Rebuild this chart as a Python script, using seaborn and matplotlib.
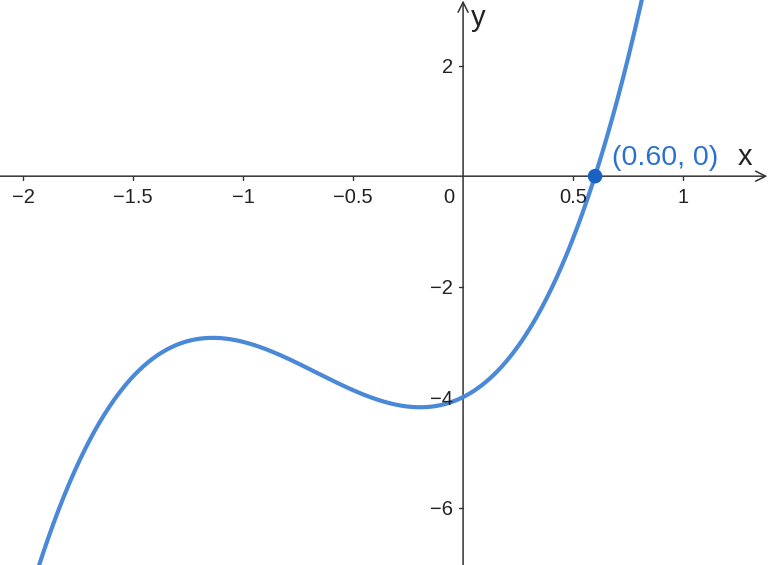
import numpy as np
import pandas as pd
import matplotlib
matplotlib.use("Agg")
import matplotlib.pyplot as plt
import seaborn as sns

# Cubic: f(x) = 3x^3 + 6x^2 + 2x - 4
coefficients = [3, 6, 2, -4]
root_x = [0.60]
root_y = [0.0]
root_label = "(0.60, 0)"
x_ticks = [-2, -1.5, -1, -0.5, 0.5, 1]
x_tick_labels = ["\u22122", "\u22121.5", "\u22121", "\u22120.5", "0.5", "1"]
y_ticks = [-6, -4, -2, 2]
y_tick_labels = ["\u22126", "\u22124", "\u22122", "2"]

sns.set_style("white")
plt.rcParams["font.family"] = ["Liberation Sans", "DejaVu Sans"]

xs = np.linspace(-2.2, 1.5, 800)
df = pd.DataFrame({"x": xs, "y": np.polyval(coefficients, xs)})

fig = plt.figure(figsize=(7.68, 5.65), dpi=100)
ax = fig.add_axes([0, 0, 1, 1])
xmin, xmax = -2.105, 1.386
ymin, ymax = -7.04, 3.19
ax.set_xlim(xmin, xmax)
ax.set_ylim(ymin, ymax)

sns.lineplot(data=df, x="x", y="y", ax=ax, color="#4a88d8", linewidth=3.0,
             sort=False, zorder=3)
ax.scatter(root_x, root_y, s=110, color="#1a62c2", zorder=4, edgecolors="none")
ax.text(root_x[0] + 0.075, root_y[0] + 0.1, root_label, color="#2a70cc",
        fontsize=20.5, ha="left", va="bottom")

for s in ax.spines.values():
    s.set_visible(False)
ax.set_xticks([])
ax.set_yticks([])
ax.set_xlabel("")
ax.set_ylabel("")

axis_color = "#333333"
ax.annotate("", xy=(xmax - 0.003, 0), xytext=(xmin, 0),
            arrowprops=dict(arrowstyle="->", color=axis_color, lw=1.1,
                            mutation_scale=18, shrinkA=0, shrinkB=0), zorder=2)
ax.annotate("", xy=(0, ymax - 0.01), xytext=(0, ymin),
            arrowprops=dict(arrowstyle="->", color=axis_color, lw=1.1,
                            mutation_scale=18, shrinkA=0, shrinkB=0), zorder=2)

dy = (ymax - ymin) / 565.0
dx = (xmax - xmin) / 768.0
fs = 14.5
for t, lab in zip(x_ticks, x_tick_labels):
    ax.plot([t, t], [0, -4 * dy], color=axis_color, lw=1.0, zorder=2)
    ax.text(t, -21 * dy, lab, ha="center", va="center", fontsize=fs, color="#222222")
ax.text(-9 * dx, -21 * dy, "0", ha="right", va="center", fontsize=fs, color="#222222")
for t, lab in zip(y_ticks, y_tick_labels):
    ax.plot([0, -4 * dx], [t, t], color=axis_color, lw=1.0, zorder=2)
    ax.text(-10 * dx, t - 2 * dy, lab, ha="right", va="center", fontsize=fs, color="#222222")

ax.text(xmax - 30 * dx, 5 * dy, "x", ha="left", va="bottom", fontsize=21, color="#222222")
ax.text(8 * dx, ymax - 4 * dy, "y", ha="left", va="top", fontsize=21, color="#222222")

fig.savefig("out.png", dpi=100)
